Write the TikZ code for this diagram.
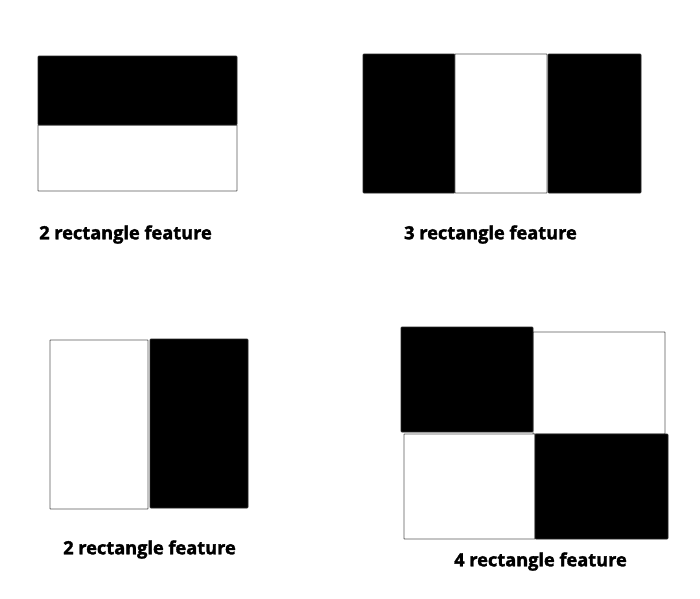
\documentclass[tikz,border=0pt]{standalone}
\usepackage{fontspec}
\setmainfont{Open Sans}[BoldFeatures={FakeBold=1.8}]
\begin{document}
\begin{tikzpicture}[x=1pt,y=-1pt,
  blackbox/.style={fill=black,draw=black!85,line width=0.8pt,rounded corners=1pt},
  whitebox/.style={fill=white,draw=black!65,line width=0.9pt,rounded corners=0.5pt},
  caption/.style={font=\bfseries\fontsize{18.2}{21}\selectfont,inner sep=0pt,anchor=west}]
\useasboundingbox[fill=white] (0,0) rectangle (700,598);
% panel 1
\path[whitebox] (38,125) rectangle (237,191);
\path[blackbox] (38,56) rectangle (237,125);
\node[caption] (c1) at (39,234.5) {2 rectangle feature};
% panel 2
\path[blackbox] (363,54) rectangle (455,193);
\path[whitebox] (455,54) rectangle (547,193);
\path[blackbox] (548,54) rectangle (641,193);
\node[caption] (c2) at (404,234.5) {3 rectangle feature};
% panel 3
\path[whitebox] (50,340) rectangle (148,509);
\path[blackbox] (150,339) rectangle (248,508);
\node[caption] (c3) at (63,549.5) {2 rectangle feature};
% panel 4
\path[whitebox] (533,332) rectangle (665,434);
\path[blackbox] (401,327) rectangle (533,432);
\path[whitebox] (404,434) rectangle (535,539);
\path[blackbox] (535,434) rectangle (668,539);
\node[caption] (c4) at (454,561.5) {4 rectangle feature};
\end{tikzpicture}
\end{document}
